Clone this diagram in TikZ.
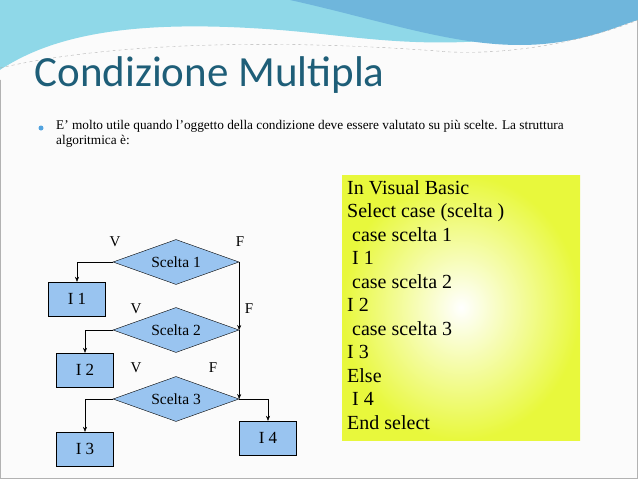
\documentclass[tikz,border=0pt]{standalone}
\usepackage{fontspec}
\setmainfont{Liberation Serif}
\newfontfamily\titlefont{Carlito}
\usetikzlibrary{shapes.geometric,arrows.meta}
\definecolor{boxblue}{HTML}{99C4F0}
\definecolor{titleteal}{HTML}{1E5E78}
\definecolor{swoosh}{HTML}{8FD8E8}
\definecolor{swooshdark}{HTML}{6FB6DC}
\definecolor{yel}{HTML}{E8F83C}
\tikzset{
 dec/.style={diamond,draw,fill=boxblue,aspect=2.8,minimum width=126pt,minimum height=45pt,inner sep=0pt,font=\fontsize{15.5}{16}\selectfont},
 ibox/.style={draw,fill=boxblue,minimum width=57pt,minimum height=34pt,inner sep=0pt,font=\fontsize{17}{18}\selectfont},
 lab/.style={font=\fontsize{15}{16}\selectfont},
 arr/.style={-{Stealth[length=5pt,width=4pt]},thin},
}
\begin{document}
\begin{tikzpicture}[x=1pt,y=-1pt]
\useasboundingbox (0,0) rectangle (638,479);
\fill[white!97!gray] (0,0) rectangle (638,479);
\draw[gray!60] (0.5,0.5) rectangle (637.5,478.5);
% swoosh
\fill[swoosh] (0,0) -- (0,70) .. controls (60,30) and (150,20) .. (280,30) .. controls (380,38) and (460,60) .. (638,15) -- (638,0) -- cycle;
\fill[swooshdark] (290,0) .. controls (380,20) and (450,45) .. (520,45) .. controls (580,45) and (620,25) .. (638,20) -- (638,0) -- cycle;
\fill[white!97!gray] (0,70) .. controls (60,35) and (150,25) .. (280,32) .. controls (320,35) and (340,40) .. (330,45) .. controls (200,40) and (80,50) .. (0,80) -- cycle;
\draw[gray!60,dashed] (0,68) .. controls (120,40) and (300,40) .. (450,52) .. controls (530,55) and (600,35) .. (638,20);
\node[anchor=base west,text=titleteal,font=\titlefont\fontsize{43}{46}\selectfont] (title) at (31,86) {Condizione Multipla};
\fill[cyan!70!blue!70] (41,128) circle (2.5);
\node[anchor=north west,align=left,inner sep=0pt,font=\fontsize{13.3}{15.5}\selectfont] (bul) at (56,120) {E' molto utile quando l'oggetto della condizione deve essere valutato su più scelte. La struttura\\algoritmica è:};
% yellow box
\shade[inner color=white,outer color=yel] (342,175) rectangle (580,440);
\node[anchor=north west,align=left,inner sep=0pt,font=\fontsize{20}{23.5}\selectfont] (vb) at (347,180) {In Visual Basic\\Select case (scelta )\\\ case scelta 1\\\ I 1\\\ case scelta 2\\I 2\\\ case scelta 3\\I 3\\Else\\\ I 4\\End select};
% flowchart
\node[dec] (d1) at (176,262) {Scelta 1};
\node[dec] (d2) at (176,330) {Scelta 2};
\node[dec] (d3) at (176,399) {Scelta 3};
\node[ibox] (i1) at (77,299) {I 1};
\node[ibox] (i2) at (85,370) {I 2};
\node[ibox] (i3) at (85,449) {I 3};
\node[ibox] (i4) at (268,438) {I 4};
\draw[arr] (d1.west) -| (i1.north);
\draw[arr] (d2.west) -| (i2.north);
\draw[arr] (d3.west) -| (i3.north);
\draw[arr] (d1.east) -- (d2.east);
\draw[arr] (d2.east) -- (d3.east);
\draw[arr] (d3.east) -| (i4.north);
\node[lab] (v1) at (115,242) {V};
\node[lab] (f1) at (240,242) {F};
\node[lab] (v2) at (136,309) {V};
\node[lab] (f2) at (249,309) {F};
\node[lab] (v3) at (136,368) {V};
\node[lab] (f3) at (213,368) {F};
\end{tikzpicture}
\end{document}
